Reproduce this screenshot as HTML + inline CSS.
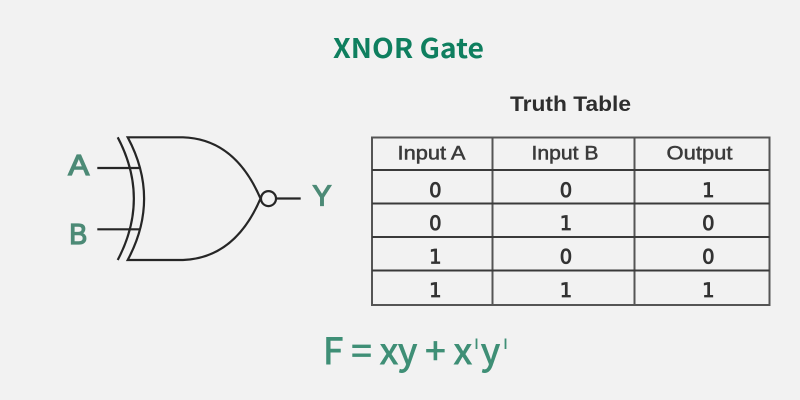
<!DOCTYPE html>
<html><head><meta charset="utf-8"><style>
html,body{margin:0;padding:0;background:#f2f2f2}
svg{display:block}
</style></head><body>
<svg width="800" height="400" viewBox="0 0 800 400" xmlns="http://www.w3.org/2000/svg">
<rect width="800" height="400" fill="#f2f2f2"/>
<text x="333" y="58" font-family="'Noto Sans CJK SC','Liberation Sans',sans-serif" font-weight="700" font-size="27" fill="#0f7f5f" textLength="151" lengthAdjust="spacingAndGlyphs">XNOR Gate</text>
<text x="510" y="111" font-family="'Liberation Sans',sans-serif" font-weight="700" font-size="21" fill="#2e2e2e" textLength="121" lengthAdjust="spacingAndGlyphs">Truth Table</text>

<g fill="none" stroke="#262626" stroke-width="2.2">
<path d="M117.700 137.300Q150 198.600 117.700 260"/>
<path d="M127.700 137.300Q160.500 198.600 127.700 260H183Q235 258 260.500 198.600Q235 139 183 137.300Z"/>
<path d="M97.300 168H140M97.300 229.300H140M276.500 198.500H300.700"/>
<circle cx="268.500" cy="198.600" r="7.500" fill="#f2f2f2"/>
</g>
<g font-family="'Liberation Sans',sans-serif" font-size="29" fill="#4c8a76" stroke="#4c8a76" stroke-width="1.300">
<text x="68.300" y="175" textLength="21" lengthAdjust="spacingAndGlyphs">A</text>
<text x="69.300" y="244" textLength="18" lengthAdjust="spacingAndGlyphs">B</text>
<text x="312.500" y="205.500" textLength="19" lengthAdjust="spacingAndGlyphs">Y</text>
</g>

<g fill="none" stroke="#555" stroke-width="2">
<rect x="372" y="137.500" width="397.500" height="167.500"/>
<path d="M492.500 137.500V305M634.500 137.500V305"/>
</g>
<path d="M372 170H769.500M372 203.500H769.500M372 237H769.500M372 270.500H769.500" stroke="#3a3a3a" stroke-width="2" fill="none"/>

<g font-family="'Liberation Sans',sans-serif" font-size="19" fill="#3a3a3a" stroke="#3a3a3a" stroke-width="0.500" text-anchor="middle">
<text x="431.500" y="159.500" textLength="68" lengthAdjust="spacingAndGlyphs">Input A</text>
<text x="565" y="159.500" textLength="67" lengthAdjust="spacingAndGlyphs">Input B</text>
<text x="699.500" y="159.500" textLength="66" lengthAdjust="spacingAndGlyphs">Output</text>
</g>
<g font-family="'DejaVu Sans',sans-serif" font-size="19.500" fill="#333" stroke="#333" stroke-width="0.800" text-anchor="middle">
<text x="435.300" y="197">0</text><text x="566" y="197">0</text><text x="708.300" y="197">1</text>
<text x="435.300" y="230">0</text><text x="566" y="230">1</text><text x="708.300" y="230">0</text>
<text x="435.300" y="263.500">1</text><text x="566" y="263.500">0</text><text x="708.300" y="263.500">0</text>
<text x="435.300" y="297">1</text><text x="566" y="297">1</text><text x="708.300" y="297">1</text>
</g>

<g font-family="'Noto Sans CJK SC','Liberation Sans',sans-serif" font-size="36" fill="#3f8f76" stroke="#3f8f76" stroke-width="0.900">
<text x="323" y="364" textLength="149" lengthAdjust="spacingAndGlyphs">F = xy + x</text>
<text x="481" y="364" textLength="19" lengthAdjust="spacingAndGlyphs">y</text>
</g>
<path d="M476.500 338.500V349M505.500 338.500V349" stroke="#3f8f76" stroke-width="1.800" fill="none"/>
</svg>
</body></html>
